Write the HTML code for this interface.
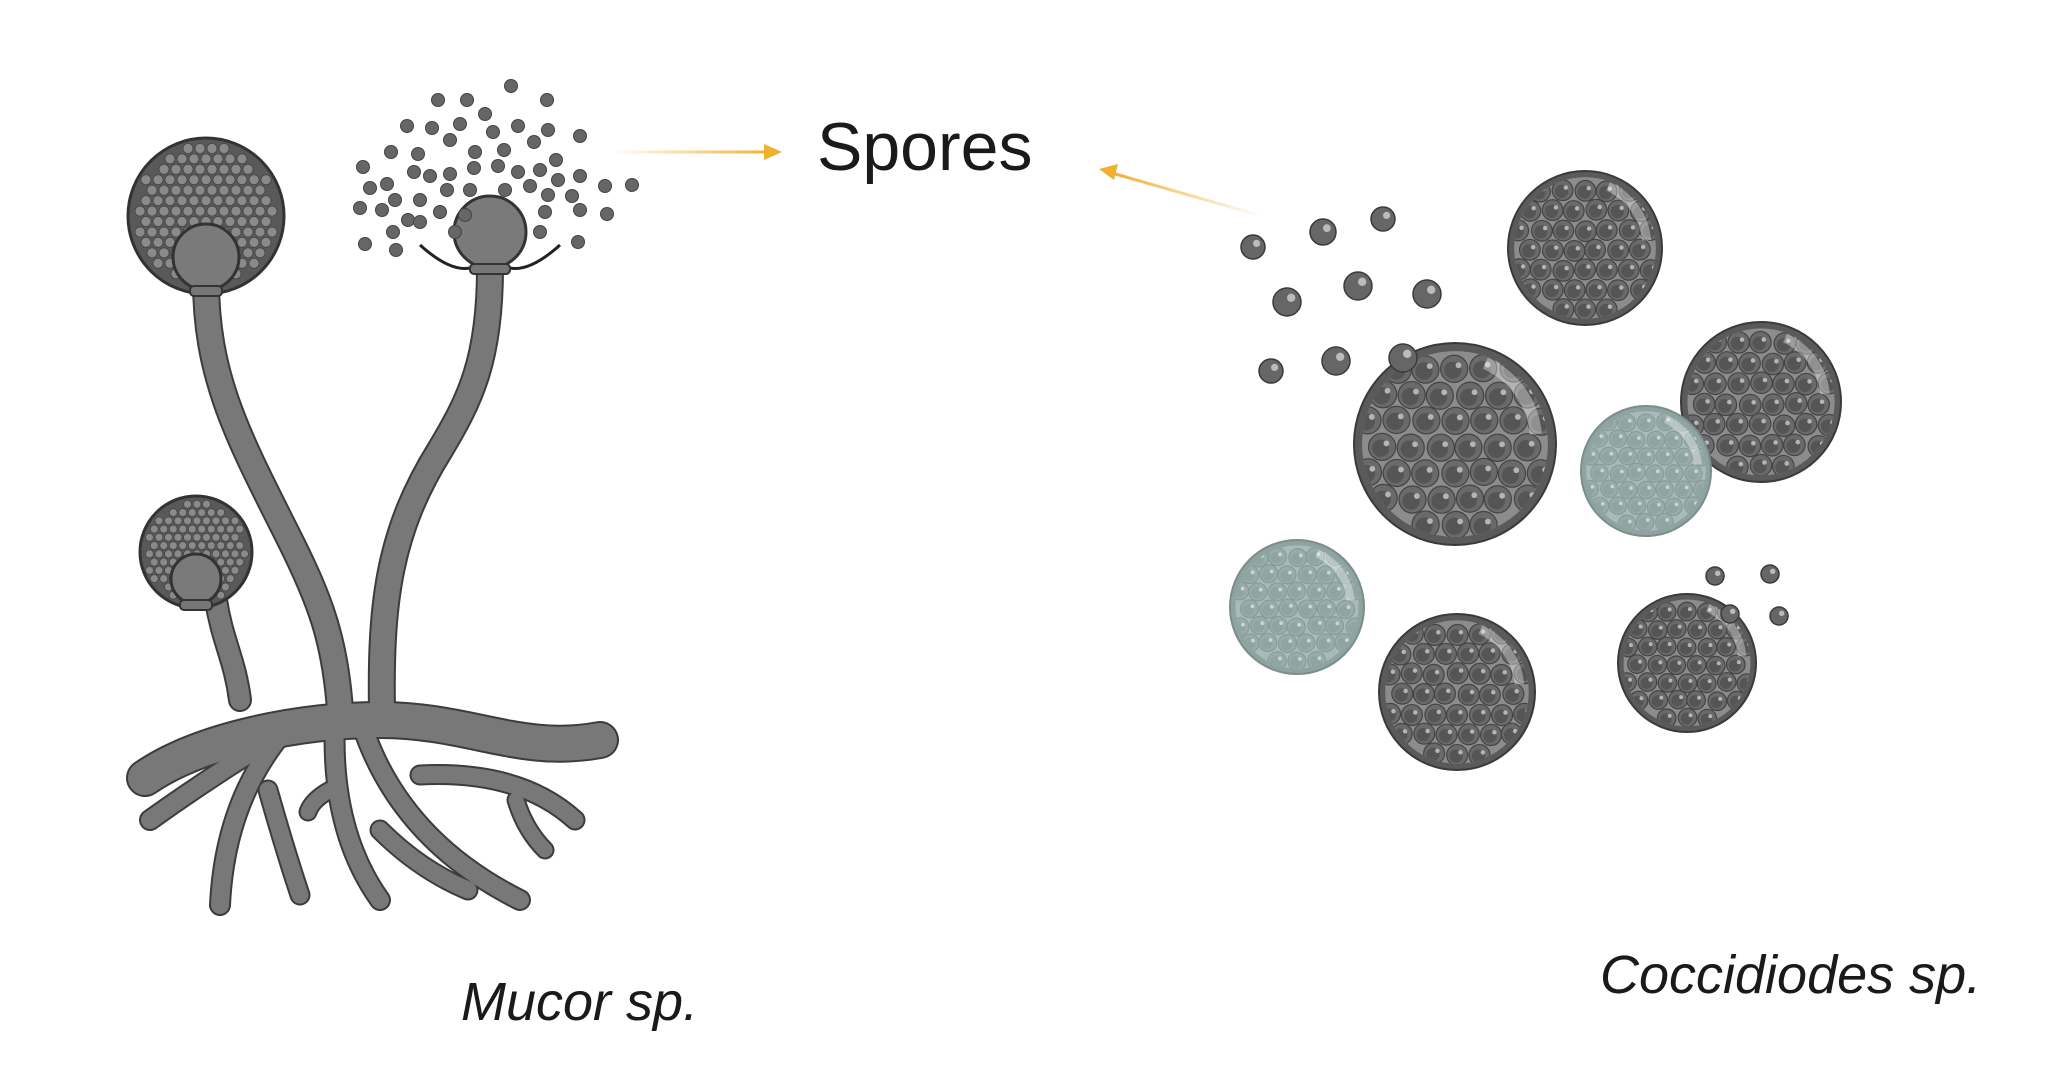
<!DOCTYPE html>
<html><head><meta charset="utf-8"><style>
html,body{margin:0;padding:0;background:#fff;width:2048px;height:1079px;overflow:hidden}
svg{position:absolute;left:0;top:0}
.t{font-family:"Liberation Sans",sans-serif;fill:#1a1a1a}
</style></head><body>
<svg id="s" width="2048" height="1079" viewBox="0 0 2048 1079">
<defs>
<linearGradient id="ga" gradientUnits="userSpaceOnUse" x1="612" y1="152" x2="770" y2="152"><stop offset="0" stop-color="#f0b030" stop-opacity="0"/><stop offset="1" stop-color="#f0b030"/></linearGradient>
<linearGradient id="gb" gradientUnits="userSpaceOnUse" x1="1262" y1="216" x2="1112" y2="173"><stop offset="0" stop-color="#f0b030" stop-opacity="0"/><stop offset="1" stop-color="#f0b030"/></linearGradient>
</defs>
<g id="hy" fill="none" stroke-linecap="round" stroke-linejoin="round"></g>
<g id="mu"></g>
<g id="co"></g>
<line x1="612" y1="152" x2="770" y2="152" stroke="url(#ga)" stroke-width="3"/>
<polygon points="782,152 764,144 764,160" fill="#f0b030"/>
<line x1="1262" y1="216" x2="1112" y2="173" stroke="url(#gb)" stroke-width="3"/>
<polygon points="1099,169 1118,164 1114,180" fill="#f0b030"/>
<text class="t" x="817" y="170" font-size="68">Spores</text>
<text class="t" x="461" y="1020" font-size="54" font-style="italic">Mucor sp.</text>
<text class="t" x="1600" y="993" font-size="54" font-style="italic">Coccidiodes sp.</text>
</svg>
<script>
var NS="http://www.w3.org/2000/svg";
function el(p,t,a){var e=document.createElementNS(NS,t);for(var k in a)e.setAttribute(k,a[k]);p.appendChild(e);return e;}
var seed=7;function rnd(){seed=(seed*16807)%2147483647;return seed/2147483647;}
var hy=document.getElementById('hy');
var paths=[
["M206 280 C206 380 240 440 290 540 C320 600 335 640 340 710",24],
["M490 268 C490 360 470 400 440 450 C390 530 380 600 382 710",24],
["M216 600 C222 640 235 660 240 700",20],
["M145 778 C200 740 300 720 380 720 C470 720 520 755 600 740",34],
["M300 722 Q220 770 150 820",18],
["M285 730 Q225 800 220 905",18],
["M268 790 Q285 850 300 895",17],
["M335 720 Q330 830 380 900",18],
["M330 790 Q312 800 308 812",15],
["M362 725 Q400 840 520 900",18],
["M380 830 Q420 870 468 890",17],
["M420 775 Q520 770 575 820",17],
["M516 800 Q525 830 545 850",15]];
paths.forEach(function(p){el(hy,'path',{d:p[0],stroke:'#3c3c3c','stroke-width':p[1]+4});});
paths.forEach(function(p){el(hy,'path',{d:p[0],stroke:'#787878','stroke-width':p[1]});});
var mu=document.getElementById('mu');
function spor(cx,cy,r,cr,colr,n){
 el(mu,'circle',{cx:cx,cy:cy,r:r,fill:'#595959',stroke:'#333','stroke-width':3});
 var d=n;for(var y=cy-r;y<cy+r;y+=d*0.87){var row=Math.round((y-cy)/(d*0.87));for(var x=cx-r+(row%2?d/2:0);x<cx+r;x+=d){if(Math.hypot(x-cx,y-cy)<r-d*0.6)el(mu,'circle',{cx:x,cy:y,r:d*0.42,fill:'#8a8a8a',stroke:'#444','stroke-width':0.8});}}
 el(mu,'circle',{cx:cx,cy:cy+r-colr-4,r:colr,fill:'#7a7a7a',stroke:'#333','stroke-width':3});
 el(mu,'rect',{x:cx-16,y:cy+r-8,width:32,height:10,rx:4,fill:'#777',stroke:'#333','stroke-width':2});
}
spor(206,216,78,0,33,12);
spor(196,552,56,0,25,9.5);
el(mu,'path',{d:'M420 245 Q450 272 470 268 M560 245 Q530 272 510 268',stroke:'#222','stroke-width':3,fill:'none'});
el(mu,'circle',{cx:490,cy:232,r:36,fill:'#7a7a7a',stroke:'#333','stroke-width':3});
el(mu,'rect',{x:470,y:264,width:40,height:10,rx:4,fill:'#777',stroke:'#333','stroke-width':2});
var pts=[[511,86],[438,100],[467,100],[547,100],[485,114],[518,126],[407,126],[432,128],[460,124],[493,132],[548,130],[580,136],[391,152],[418,154],[450,140],[475,152],[504,150],[534,142],[556,160],[363,167],[387,184],[414,172],[430,176],[450,174],[474,168],[498,166],[518,172],[540,170],[558,180],[580,176],[605,186],[632,185],[370,188],[395,200],[420,200],[447,190],[470,190],[530,186],[548,195],[572,196],[360,208],[382,210],[408,220],[440,212],[465,215],[545,212],[580,210],[607,214],[393,232],[420,222],[540,232],[578,242],[365,244],[396,250],[505,190],[455,232]];
pts.forEach(function(p){el(mu,'circle',{cx:p[0],cy:p[1],r:6.5,fill:'#666',stroke:'#444','stroke-width':1});});
var co=document.getElementById('co');
function sph(cx,cy,r,teal){
 var g=el(co,'g',{});
 var id='c'+Math.round(cx)+'_'+Math.round(cy);
 var cp=el(g,'clipPath',{id:id});el(cp,'circle',{cx:cx,cy:cy,r:r-r*0.08});
 el(g,'circle',{cx:cx,cy:cy,r:r,fill:teal?'#8fa3a1':'#5a5a5a',stroke:teal?'#7a8e8c':'#3a3a3a','stroke-width':2});
 el(g,'circle',{cx:cx,cy:cy,r:r*0.92,fill:teal?'#a9bbb9':'#8c8c8c'});
 var cg=el(g,'g',{'clip-path':'url(#'+id+')'});
 var d=r/3.5;
 for(var y=cy-r;y<cy+r+d;y+=d*0.9){var row=Math.round((y-cy)/(d*0.9));for(var x=cx-r+(row%2?d/2:0);x<cx+r+d;x+=d){
  if(Math.hypot(x-cx,y-cy)<r*0.95){var jx=x+(rnd()-0.5)*2,jy=y+(rnd()-0.5)*2;
  el(cg,'circle',{cx:jx,cy:jy,r:d*0.47,fill:teal?'#98acaa':'#6a6a6a',stroke:teal?'#889c9a':'#444','stroke-width':1.2});
  el(cg,'circle',{cx:jx-d*0.05,cy:jy+d*0.05,r:d*0.3,fill:teal?'#90a4a2':'#555'});
  el(cg,'circle',{cx:jx+d*0.15,cy:jy-d*0.12,r:d*0.1,fill:teal?'#c8d6d4':'#b5b5b5'});}}}
 el(g,'path',{d:'M'+(cx+r*0.3)+' '+(cy-r*0.8)+' A'+r*0.85+' '+r*0.85+' 0 0 1 '+(cx+r*0.8)+' '+(cy-r*0.1),stroke:'rgba(255,255,255,0.35)','stroke-width':r*0.12,fill:'none'});
}
sph(1585,248,77);sph(1455,444,101);sph(1761,402,80);sph(1646,471,65,1);sph(1297,607,67,1);sph(1457,692,78);sph(1687,663,69);
function sp(x,y,r){el(co,'circle',{cx:x,cy:y,r:r,fill:'#666',stroke:'#3a3a3a','stroke-width':1.5});el(co,'circle',{cx:x+r*0.3,cy:y-r*0.3,r:r*0.3,fill:'#bbb'});}
[[1253,247,12],[1323,232,13],[1383,219,12],[1287,302,14],[1358,286,14],[1427,294,14],[1271,371,12],[1336,361,14],[1403,358,14],[1715,576,9],[1770,574,9],[1730,614,9],[1779,616,9]].forEach(function(p){sp(p[0],p[1],p[2]);});
</script>
</body></html>
